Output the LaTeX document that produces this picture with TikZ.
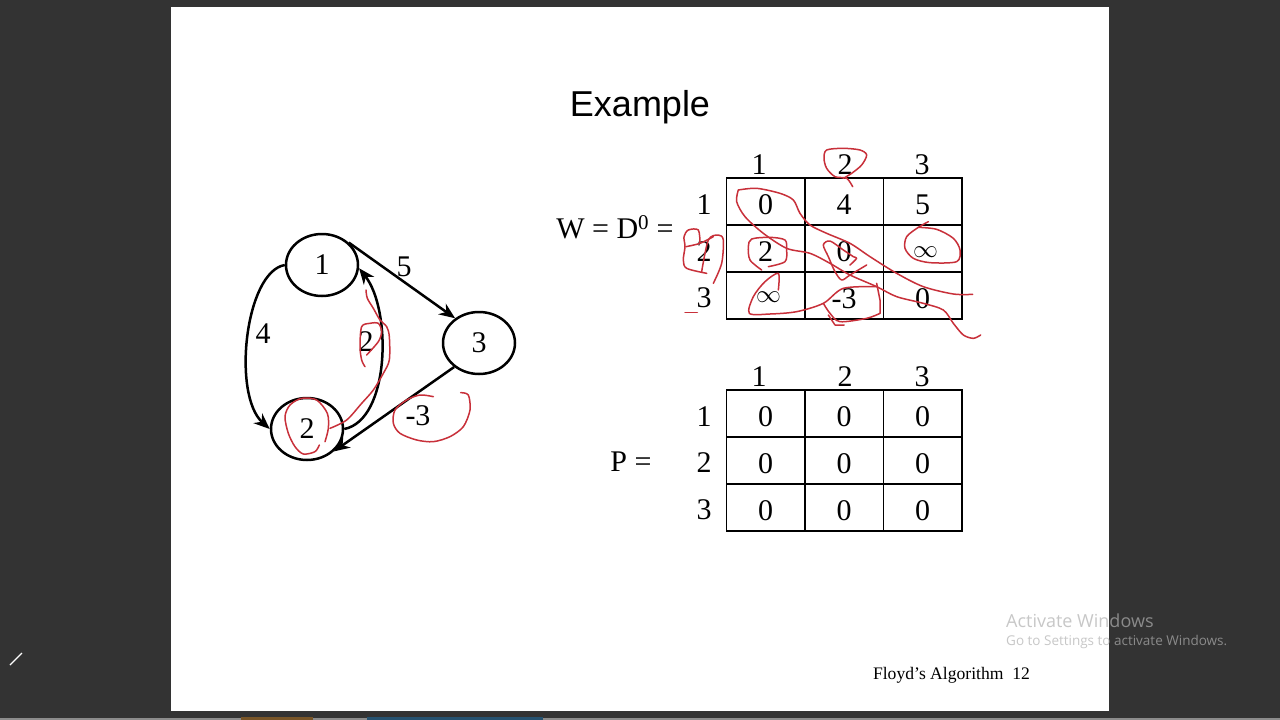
\documentclass[tikz,border=0pt]{standalone}
\usepackage{fontspec}
\setmainfont{Liberation Serif}
\newfontfamily\arialf{Liberation Sans}
\newfontfamily\winf{Open Sans}
\usetikzlibrary{shapes.geometric,arrows.meta}
\definecolor{bgdark}{HTML}{333333}
\definecolor{inkred}{HTML}{C8303A}
\tikzset{
  x=1pt,y=-1pt,
  txt/.style={font=\fontsize{30}{32}\selectfont,inner sep=0pt,text=black,yshift=-1pt},
  inftxt/.style={font=\fontsize{26}{28}\selectfont,inner sep=0pt,text=black},
  vertex/.style={draw=black,line width=2.5pt,ellipse,minimum width=72pt,minimum height=62pt,inner sep=0pt,font=\fontsize{30}{32}\selectfont,text=black},
  edgeline/.style={draw=black,line width=2.5pt,-{Stealth[length=16pt,width=13pt]}},
  cellbox/.style={draw=black,line width=1.5pt,minimum width=78.5pt,minimum height=47pt,inner sep=0pt},
  ink/.style={draw=inkred,line width=1.5pt,line cap=round,line join=round},
  zoomA/.style={x=0.33333pt,y=-0.33333pt,shift={(230pt,-220pt)}},
  zoomB/.style={x=0.33333pt,y=-0.33333pt,shift={(670pt,-140pt)}},
}
\newcommand{\cellat}[5]{%
  \node[cellbox] (#1) at (#2,#3) {};
  \node[#5] (#1t) at (#2,#3+2) {#4};}
\begin{document}
\begin{tikzpicture}
\useasboundingbox (0,0) rectangle (1280,720);
% backdrop
\fill[bgdark] (0,0) rectangle (1280,720);
\fill[black!45] (0,718) rectangle (1280,720);
\fill[color={rgb,255:red,120;green,85;blue,40}] (241,717) rectangle (313,720);
\fill[color={rgb,255:red,38;green,82;blue,112}] (367,717) rectangle (543,720);
\fill[white] (171,7) rectangle (1109,710.5);
\draw[white,line width=1.3pt] (10,665) -- (22,653);
% title
\node[inner sep=0pt,font=\arialf\fontsize{36}{38}\selectfont,text=black] (title) at (640,107) {Example};
% graph
\node[vertex] (n1) at (322,265) {1};
\node[vertex] (n3) at (479,343) {3};
\node[vertex] (n2) at (307,429) {2};
\draw[edgeline] (n1.40) -- (n3.134);
\draw[edgeline] (n3.224) -- (n2.-40);
\draw[edgeline] (n1.180) .. controls (245,272) and (232,395) .. (n2.180);
\draw[edgeline] (n2.0) .. controls (390,420) and (392,310) .. (n1.-5);
\node[txt] (e13) at (404,266) {5};
\node[txt] (e12) at (263,333) {4};
\node[txt] (e21) at (366,341) {2};
\node[txt] (e32) at (418,415) {-3};
% first matrix
\node[txt] (wlab) at (615,226) {W = D\textsuperscript{0} =};
\node[txt] (wc1) at (759,164) {1};
\node[txt] (wc2) at (845,164) {2};
\node[txt] (wc3) at (922,164) {3};
\node[txt] (wr1) at (704,204) {1};
\node[txt] (wr2) at (704,251) {2};
\node[txt] (wr3) at (704,297) {3};
\cellat{a11}{765.5}{201.5}{0}{txt}
\cellat{a12}{844}{201.5}{4}{txt}
\cellat{a13}{922.5}{201.5}{5}{txt}
\cellat{a21}{765.5}{248.5}{2}{txt}
\cellat{a22}{844}{248.5}{0}{txt}
\cellat{a23}{922.5}{248.5}{\hspace{6pt}$\infty$}{inftxt,yshift=-2pt}
\cellat{a31}{765.5}{295.5}{\hspace{6pt}$\infty$}{inftxt}
\cellat{a32}{844}{295.5}{-3}{txt}
\cellat{a33}{922.5}{295.5}{0}{txt}
% second matrix
\node[txt] (plab) at (631,461) {P =};
\node[txt] (pc1) at (759,376) {1};
\node[txt] (pc2) at (845,376) {2};
\node[txt] (pc3) at (922,376) {3};
\node[txt] (pr1) at (704,416) {1};
\node[txt] (pr2) at (704,462) {2};
\node[txt] (pr3) at (704,509) {3};
\cellat{b11}{765.5}{413.5}{0}{txt}
\cellat{b12}{844}{413.5}{0}{txt}
\cellat{b13}{922.5}{413.5}{0}{txt}
\cellat{b21}{765.5}{460.5}{0}{txt}
\cellat{b22}{844}{460.5}{0}{txt}
\cellat{b23}{922.5}{460.5}{0}{txt}
\cellat{b31}{765.5}{507.5}{0}{txt}
\cellat{b32}{844}{507.5}{0}{txt}
\cellat{b33}{922.5}{507.5}{0}{txt}
% footer
\node[inner sep=0pt,font=\fontsize{17.6}{19}\selectfont,text=black] (foot) at (951.5,675) {Floyd’s Algorithm\ \ 12};
\node[inner sep=0pt,anchor=west,font=\winf\fontsize{18}{20}\selectfont,text=black!31,opacity=.7] (act1) at (1006,621) {Activate Windows};
\node[inner sep=0pt,anchor=west,font=\winf\fontsize{13.5}{15}\selectfont,text=black!31,opacity=.7] (act2) at (1006,642) {Go to Settings to activate Windows.};
% red ink over the graph
\begin{scope}[zoomA]
\draw[ink] plot[smooth,tension=.5] coordinates {(408,210)(412,235)(430,265)(450,300)(470,320)(478,350)(478,420)(460,460)(430,510)(395,550)(350,600)(300,625)};
\draw[ink] plot[smooth,tension=.5] coordinates {(405,440)(395,420)(390,380)(395,320)(420,310)(445,310)(455,335)(445,365)(410,405)};
\draw[ink] plot[smooth,tension=.5] coordinates {(285,665)(295,625)(292,580)(260,540)(215,535)(180,555)(165,590)(175,640)(195,680)(220,702)(255,695)(268,675)};
\draw[ink] plot[smooth,tension=.5] coordinates {(610,530)(570,525)(530,540)(495,570)(490,610)(510,640)(560,660)(610,665)(660,650)(700,620)(720,570)(715,525)(692,518)};
\end{scope}
% red ink over the matrix
\begin{scope}[zoomB]
\draw[ink] plot[smooth,tension=.5] coordinates {(548,140)(530,115)(495,110)(470,85)(462,55)(470,30)(520,25)(570,30)(590,45)(575,75)(545,100)(520,115)};
\draw[ink] plot[smooth,tension=.5] coordinates {(205,150)(260,145)(330,160)(370,180)(390,220)(420,255)(470,280)(540,310)(600,350)(680,400)(760,440)(850,462)(908,463)};
\draw[ink] plot[smooth,tension=.5] coordinates {(205,150)(200,185)(225,230)(280,280)(350,325)(420,340)(480,370)(540,405)(620,440)(680,470)(760,490)(820,510)(850,550)(880,585)(910,595)(932,585)};
\draw[ink] plot[smooth,tension=.5] coordinates {(590,375)(540,405)(515,420)(495,395)(475,350)(460,315)(480,303)(520,330)(550,350)(560,355)(540,375)};
\draw[ink] plot[smooth,tension=.5] coordinates {(775,245)(745,262)(710,290)(705,325)(730,355)(780,368)(860,365)(870,330)(850,295)(800,268)(745,262)};
\draw[ink] plot[smooth,tension=.5] coordinates {(275,390)(240,360)(235,320)(245,297)(300,292)(345,300)(350,330)(345,365)(295,380)};
\draw[ink] plot[smooth,tension=.5] coordinates {(325,450)(325,400)(285,425)(250,470)(238,520)(300,522)(380,515)(460,490)(520,445)(620,440)};
\draw[ink] (620,430) -- (630,480) -- (630,520);
\draw[ink] plot[smooth,tension=.5] coordinates {(630,520)(590,535)(510,545)(480,520)(460,490)};
\draw[ink] (475,525) -- (495,555) -- (522,555);
\draw[ink] plot[smooth,tension=.5] coordinates {(130,430)(155,370)(160,300)(145,285)(115,300)(95,395)};
\draw[ink] plot[smooth,tension=.5] coordinates {(110,400)(50,385)(40,360)(45,320)(42,290)(55,270)(85,270)(90,310)};
\draw[ink] plot[smooth,tension=.5] coordinates {(48,320)(90,310)(130,290)};
\draw[ink] (45,518) -- (82,518);
\end{scope}
\end{tikzpicture}
\end{document}
